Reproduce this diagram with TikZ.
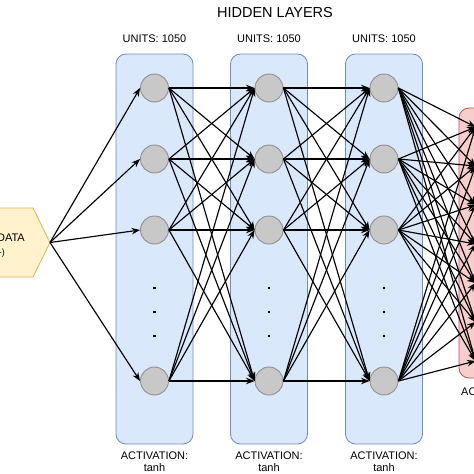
\documentclass[tikz,border=0pt]{standalone}
\usepackage{fontspec}
\setmainfont{Liberation Sans}
\usetikzlibrary{arrows.meta}
\definecolor{boxfill}{HTML}{DAE8FC}
\definecolor{boxline}{HTML}{6C8EBF}
\definecolor{redfill}{HTML}{F8CECC}
\definecolor{redline}{HTML}{B85450}
\definecolor{hexfill}{HTML}{FFF2CC}
\definecolor{hexline}{HTML}{D6B656}
\definecolor{nodefill}{HTML}{C8C8C8}
\definecolor{nodeline}{HTML}{8F8F8F}
\begin{document}
\begin{tikzpicture}[x=1pt,y=-1pt,
  layerbox/.style={draw=boxline, fill=boxfill, rounded corners=10pt, line width=0.8pt, minimum width=77pt, minimum height=390pt, inner sep=0pt},
  outbox/.style={draw=redline, fill=redfill, rounded corners=10pt, line width=0.8pt, minimum width=74pt, minimum height=270pt, inner sep=0pt},
  neuron/.style={circle, draw=nodeline, fill=nodefill, minimum size=28pt, inner sep=0pt, line width=0.9pt},
  conn/.style={-{Stealth[length=8.5pt,width=6.5pt]}, line width=1.15pt, black},
  lbl/.style={font=\fontsize{11}{12}\selectfont, align=center, inner sep=0pt},
  dotmark/.style={fill=black, minimum size=2.8pt, inner sep=0pt}
]
\useasboundingbox (0,0) rectangle (474,474);
\clip (0,0) rectangle (474,474);
\fill[white] (0,0) rectangle (474,474);

% title and labels
\node[font=\fontsize{14.5}{17}\selectfont, inner sep=0pt] (title) at (275,12.5) {HIDDEN LAYERS};
\node[lbl] (u1) at (154.5,39) {UNITS: 1050};
\node[lbl] (u2) at (269,39) {UNITS: 1050};
\node[lbl] (u3) at (384,39) {UNITS: 1050};

% layer boxes
\node[layerbox] (L1) at (154.5,249) {};
\node[layerbox] (L2) at (269,249) {};
\node[layerbox] (L3) at (384,249) {};
\node[outbox] (L4) at (496,243) {};

\node[lbl] (a1) at (154.5,462) {ACTIVATION:\\tanh};
\node[lbl] (a2) at (269,462) {ACTIVATION:\\tanh};
\node[lbl] (a3) at (384,462) {ACTIVATION:\\tanh};
\node[lbl, anchor=west] (a4) at (461,392) {ACTIVATION:};

% input hexagon
\filldraw[fill=hexfill, draw=hexline, line width=0.8pt]
  (33,208) -- (50,242.5) -- (33,277) -- (-60,277) -- (-77,242.5) -- (-60,208) -- cycle;
\coordinate (inp) at (50,242.5);
\node[lbl, anchor=east] (in1) at (25,238) {INPUT DATA};
\node[font=\fontsize{9}{10}\selectfont, inner sep=0pt, anchor=east] (in2) at (5,253) {(-)};

% neurons
\foreach \l/\x in {1/154.5,2/269,3/384}{
  \foreach \i/\y in {1/88,2/159,3/230,4/381}{
    \node[neuron] (n\l\i) at (\x,\y) {};
  }
  \foreach \y [count=\k] in {288,312,336}{
    \node[dotmark] (d\l\k) at (\x,\y) {};
  }
}
\foreach \i in {1,...,7}{
  \node[neuron] (o\i) at (490,{127+39*(\i-1)}) {};
}

% connections
\foreach \b in {1,...,4}{
  \draw[conn] (inp) -- (n1\b.west);
}
\foreach \a in {1,...,4}{
  \foreach \b in {1,...,4}{
    \draw[conn] (n1\a.east) -- (n2\b.west);
    \draw[conn] (n2\a.east) -- (n3\b.west);
  }
  \foreach \b in {1,...,7}{
    \draw[conn] (n3\a.east) -- (o\b.west);
  }
}
\end{tikzpicture}
\end{document}
